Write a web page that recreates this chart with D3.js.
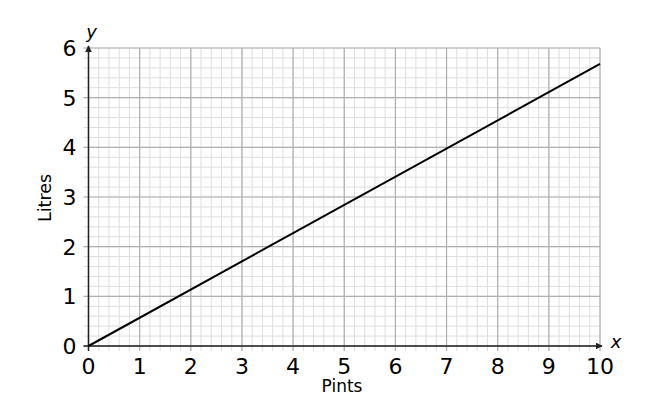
<!DOCTYPE html>
<html>
<head>
<meta charset="utf-8">
<script src="https://cdn.jsdelivr.net/npm/d3@7"></script>
<style>
  body { margin: 0; background: white; }
  text { font-family: "DejaVu Sans", sans-serif; }
</style>
</head>
<body>
<div id="chart"></div>
<script>
// pints -> litres conversion line
var linePints  = [0, 10];
var lineLitres = [0, 5.68];
var xTicks = [0, 1, 2, 3, 4, 5, 6, 7, 8, 9, 10];
var yTicks = [0, 1, 2, 3, 4, 5, 6];
var xMinor = d3.range(0, 50.5, 1).map(function(d){ return d / 5; });
var yMinor = d3.range(0, 30.5, 1).map(function(d){ return d / 5; });

var width = 667, height = 400;
var svg = d3.select("#chart").append("svg")
  .attr("width", width)
  .attr("height", height);

var x = d3.scaleLinear().domain([0, 10]).range([88.5, 600]);
var y = d3.scaleLinear().domain([0, 6]).range([346, 48]);

//minor grid
svg.append("g").selectAll("line").data(xMinor).enter().append("line")
  .attr("x1", function(d){ return x(d); }).attr("x2", function(d){ return x(d); })
  .attr("y1", y(6)).attr("y2", y(0) + 5)
  .attr("stroke", "#dedede").attr("stroke-width", 1);
svg.append("g").selectAll("line").data(yMinor).enter().append("line")
  .attr("y1", function(d){ return y(d); }).attr("y2", function(d){ return y(d); })
  .attr("x1", x(0) - 5).attr("x2", x(10))
  .attr("stroke", "#dedede").attr("stroke-width", 1);

//major grid
svg.append("g").selectAll("line").data(xTicks).enter().append("line")
  .attr("x1", function(d){ return x(d); }).attr("x2", function(d){ return x(d); })
  .attr("y1", y(6)).attr("y2", y(0) + 5)
  .attr("stroke", "#b0b0b0").attr("stroke-width", 1.2);
svg.append("g").selectAll("line").data(yTicks).enter().append("line")
  .attr("y1", function(d){ return y(d); }).attr("y2", function(d){ return y(d); })
  .attr("x1", x(0) - 5).attr("x2", x(10))
  .attr("stroke", "#b0b0b0").attr("stroke-width", 1.2);

//arrow axes
var defs = svg.append("defs");
defs.append("marker")
  .attr("id", "arr")
  .attr("viewBox", "0 0 10 10")
  .attr("refX", 9).attr("refY", 5)
  .attr("markerWidth", 7).attr("markerHeight", 7)
  .attr("markerUnits", "userSpaceOnUse")
  .attr("orient", "auto")
  .append("path").attr("d", "M0,0L10,5L0,10z").attr("fill", "#222");

svg.append("line")
  .attr("x1", x(0) - 5).attr("x2", x(10) + 2)
  .attr("y1", y(0)).attr("y2", y(0))
  .attr("stroke", "#222").attr("stroke-width", 1.5)
  .attr("marker-end", "url(#arr)");
svg.append("line")
  .attr("x1", x(0)).attr("x2", x(0))
  .attr("y1", y(0) + 5).attr("y2", y(6) - 2)
  .attr("stroke", "#222").attr("stroke-width", 1.5)
  .attr("marker-end", "url(#arr)");

//tick labels
svg.append("g").selectAll("text").data(xTicks).enter().append("text")
  .attr("x", function(d){ return x(d); })
  .attr("y", y(0) + 28)
  .attr("text-anchor", "middle")
  .attr("font-size", 22)
  .text(function(d){ return d; });
svg.append("g").selectAll("text").data(yTicks).enter().append("text")
  .attr("x", x(0) - 12)
  .attr("y", function(d){ return y(d) + 8; })
  .attr("text-anchor", "end")
  .attr("font-size", 22)
  .text(function(d){ return d; });

//axis names
svg.append("text").attr("x", x(10) + 16).attr("y", y(0) + 2)
  .attr("text-anchor", "middle").attr("font-size", 18).attr("font-style", "italic").text("x");
svg.append("text").attr("x", x(0) + 3).attr("y", y(6) - 10)
  .attr("text-anchor", "middle").attr("font-size", 18).attr("font-style", "italic").text("y");
svg.append("text").attr("x", 342).attr("y", 392)
  .attr("text-anchor", "middle").attr("font-size", 17).text("Pints");
svg.append("text")
  .attr("transform", "translate(51,198) rotate(-90)")
  .attr("text-anchor", "middle").attr("font-size", 17.5).text("Litres");

//conversion line
var pts = linePints.map(function(p, i){ return [p, lineLitres[i]]; });
svg.append("path")
  .datum(pts)
  .attr("d", d3.line().x(function(d){ return x(d[0]); }).y(function(d){ return y(d[1]); }))
  .attr("fill", "none")
  .attr("stroke", "black")
  .attr("stroke-width", 2);
</script>
</body>
</html>
